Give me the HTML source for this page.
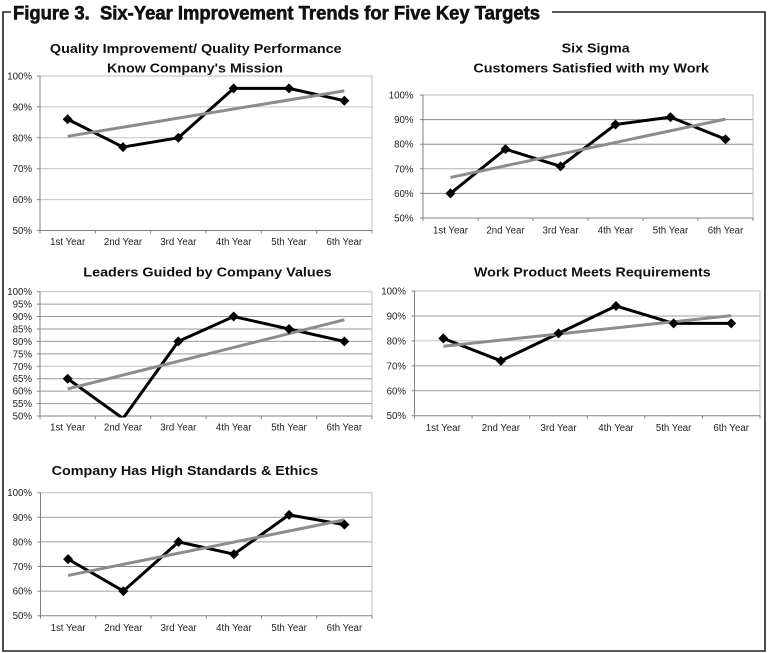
<!DOCTYPE html>
<html><head><meta charset="utf-8">
<style>
html,body{margin:0;padding:0;background:#fff;}
svg{display:block;}
.t{font-family:"Liberation Sans",Arial,sans-serif;font-weight:bold;font-size:13px;fill:#111;text-anchor:middle;}
.yl{font-family:"Liberation Sans",Arial,sans-serif;font-size:9.7px;fill:#222;text-anchor:end;}
.xl{font-family:"Liberation Sans",Arial,sans-serif;font-size:9.7px;fill:#222;text-anchor:middle;}
.ax{stroke:#808080;stroke-width:1;fill:none;}
.bd{stroke:#bdbdbd;stroke-width:1;fill:none;}
.dl{stroke:#000;stroke-width:3;fill:none;stroke-linejoin:round;}
.tr{stroke:#8c8c8c;stroke-width:3;fill:none;}
.mk{fill:#000;}
</style></head>
<body>
<svg width="768" height="653" viewBox="0 0 768 653" xmlns="http://www.w3.org/2000/svg">
<rect width="768" height="653" fill="#fff"/>
<!-- frame -->
<path d="M11 12H3V651H765V12H552" fill="none" stroke="#222" stroke-width="1.6"/>
<text x="13" y="19.5" font-family="'Liberation Sans Narrow','Liberation Sans',Arial,sans-serif" font-weight="bold" font-size="19" fill="#111" stroke="#111" stroke-width="0.6" textLength="527" lengthAdjust="spacingAndGlyphs">Figure 3.&#160; Six-Year Improvement Trends for Five Key Targets</text>

<!-- ===== Chart 1 ===== -->
<text class="t" x="195.8" y="53" textLength="291.7" lengthAdjust="spacingAndGlyphs">Quality Improvement/ Quality Performance</text>
<text class="t" x="195" y="72.7" textLength="176" lengthAdjust="spacingAndGlyphs">Know Company's Mission</text>
<g stroke="#c4c4c4" stroke-width="1">
<line x1="40" y1="106.9" x2="372" y2="106.9"/>
<line x1="40" y1="137.8" x2="372" y2="137.8"/>
<line x1="40" y1="168.7" x2="372" y2="168.7"/>
<line x1="40" y1="199.6" x2="372" y2="199.6"/>
</g>
<path class="bd" d="M40 76H372V230.5"/>
<path class="ax" d="M40 76V230.5H372"/>
<g class="ax">
<path d="M37 76H40M37 106.9H40M37 137.8H40M37 168.7H40M37 199.6H40M37 230.5H40"/>
<path d="M40 230.5V233.5M95.33 230.5V233.5M150.67 230.5V233.5M206 230.5V233.5M261.33 230.5V233.5M316.67 230.5V233.5M372 230.5V233.5"/>
</g>
<text class="yl" x="32" y="79.5">100%</text>
<text class="yl" x="32" y="110.4">90%</text>
<text class="yl" x="32" y="141.3">80%</text>
<text class="yl" x="32" y="172.2">70%</text>
<text class="yl" x="32" y="203.1">60%</text>
<text class="yl" x="32" y="234">50%</text>
<text class="xl" x="67.67" y="245">1st Year</text>
<text class="xl" x="123" y="245">2nd Year</text>
<text class="xl" x="178.33" y="245">3rd Year</text>
<text class="xl" x="233.67" y="245">4th Year</text>
<text class="xl" x="289" y="245">5th Year</text>
<text class="xl" x="344.33" y="245">6th Year</text>
<polyline class="dl" points="67.67,119.26 123,147.07 178.33,137.8 233.67,88.36 289,88.36 344.33,100.72"/>
<line class="tr" x1="67.67" y1="136.32" x2="344.33" y2="90.86"/>
<g class="mk">
<path d="M-5 0L0-5 5 0 0 5Z" transform="translate(67.67,119.26)"/>
<path d="M-5 0L0-5 5 0 0 5Z" transform="translate(123,147.07)"/>
<path d="M-5 0L0-5 5 0 0 5Z" transform="translate(178.33,137.8)"/>
<path d="M-5 0L0-5 5 0 0 5Z" transform="translate(233.67,88.36)"/>
<path d="M-5 0L0-5 5 0 0 5Z" transform="translate(289,88.36)"/>
<path d="M-5 0L0-5 5 0 0 5Z" transform="translate(344.33,100.72)"/>
</g>

<!-- ===== Chart 2 ===== -->
<text class="t" x="595.7" y="52.7" textLength="68" lengthAdjust="spacingAndGlyphs">Six Sigma</text>
<text class="t" x="591.2" y="72.5" textLength="235.7" lengthAdjust="spacingAndGlyphs">Customers Satisfied with my Work</text>
<g stroke="#858585" stroke-width="1">
<line x1="423" y1="119.6" x2="753" y2="119.6"/>
<line x1="423" y1="144.2" x2="753" y2="144.2"/>
<line x1="423" y1="168.8" x2="753" y2="168.8" stroke="#b0b0b0"/>
<line x1="423" y1="193.4" x2="753" y2="193.4"/>
</g>
<path class="bd" d="M423 95H753V218"/>
<path class="ax" d="M423 95V218H753"/>
<g class="ax">
<path d="M420 95H423M420 119.6H423M420 144.2H423M420 168.8H423M420 193.4H423M420 218H423"/>
<path d="M423 218V221M478 218V221M533 218V221M588 218V221M643 218V221M698 218V221M753 218V221"/>
</g>
<text class="yl" x="413.5" y="98.5">100%</text>
<text class="yl" x="413.5" y="123.1">90%</text>
<text class="yl" x="413.5" y="147.7">80%</text>
<text class="yl" x="413.5" y="172.3">70%</text>
<text class="yl" x="413.5" y="196.9">60%</text>
<text class="yl" x="413.5" y="221.5">50%</text>
<text class="xl" x="450.5" y="233.3">1st Year</text>
<text class="xl" x="505.5" y="233.3">2nd Year</text>
<text class="xl" x="560.5" y="233.3">3rd Year</text>
<text class="xl" x="615.5" y="233.3">4th Year</text>
<text class="xl" x="670.5" y="233.3">5th Year</text>
<text class="xl" x="725.5" y="233.3">6th Year</text>
<polyline class="dl" points="450.5,193.4 505.5,149.12 560.5,166.34 615.5,124.52 670.5,117.14 725.5,139.28"/>
<line class="tr" x1="450.5" y1="177.46" x2="725.5" y2="119.13"/>
<g class="mk">
<path d="M-5 0L0-5 5 0 0 5Z" transform="translate(450.5,193.4)"/>
<path d="M-5 0L0-5 5 0 0 5Z" transform="translate(505.5,149.12)"/>
<path d="M-5 0L0-5 5 0 0 5Z" transform="translate(560.5,166.34)"/>
<path d="M-5 0L0-5 5 0 0 5Z" transform="translate(615.5,124.52)"/>
<path d="M-5 0L0-5 5 0 0 5Z" transform="translate(670.5,117.14)"/>
<path d="M-5 0L0-5 5 0 0 5Z" transform="translate(725.5,139.28)"/>
</g>

<!-- ===== Chart 3 ===== -->
<text class="t" x="207.5" y="276.7" textLength="248.4" lengthAdjust="spacingAndGlyphs">Leaders Guided by Company Values</text>
<g stroke="#9a9a9a" stroke-width="1">
<line x1="40" y1="304.13" x2="372" y2="304.13"/>
<line x1="40" y1="316.56" x2="372" y2="316.56"/>
<line x1="40" y1="328.99" x2="372" y2="328.99"/>
<line x1="40" y1="341.42" x2="372" y2="341.42"/>
<line x1="40" y1="353.85" x2="372" y2="353.85"/>
<line x1="40" y1="366.28" x2="372" y2="366.28" stroke="#c0c0c0"/>
<line x1="40" y1="378.71" x2="372" y2="378.71"/>
<line x1="40" y1="391.14" x2="372" y2="391.14"/>
<line x1="40" y1="403.57" x2="372" y2="403.57"/>
</g>
<path class="bd" d="M40 291.7H372V416"/>
<path class="ax" d="M40 291.7V416H372"/>
<g class="ax">
<path d="M37 291.7H40M37 304.13H40M37 316.56H40M37 328.99H40M37 341.42H40M37 353.85H40M37 366.28H40M37 378.71H40M37 391.14H40M37 403.57H40M37 416H40"/>
<path d="M40 416V419M95.33 416V419M150.67 416V419M206 416V419M261.33 416V419M316.67 416V419M372 416V419"/>
</g>
<text class="yl" x="32" y="295.2">100%</text>
<text class="yl" x="32" y="307.63">95%</text>
<text class="yl" x="32" y="320.06">90%</text>
<text class="yl" x="32" y="332.49">85%</text>
<text class="yl" x="32" y="344.92">80%</text>
<text class="yl" x="32" y="357.35">75%</text>
<text class="yl" x="32" y="369.78">70%</text>
<text class="yl" x="32" y="382.21">65%</text>
<text class="yl" x="32" y="394.64">60%</text>
<text class="yl" x="32" y="407.07">55%</text>
<text class="yl" x="32" y="419.5">50%</text>
<text class="xl" x="67.67" y="430.5">1st Year</text>
<text class="xl" x="123" y="430.5">2nd Year</text>
<text class="xl" x="178.33" y="430.5">3rd Year</text>
<text class="xl" x="233.67" y="430.5">4th Year</text>
<text class="xl" x="289" y="430.5">5th Year</text>
<text class="xl" x="344.33" y="430.5">6th Year</text>
<clipPath id="c3"><rect x="38" y="285" width="340" height="132.5"/></clipPath>
<polyline class="dl" clip-path="url(#c3)" points="67.67,378.71 123,418.49 178.33,341.42 233.67,316.56 289,328.99 344.33,341.42"/>
<line class="tr" x1="67.67" y1="388.9" x2="344.33" y2="319.8"/>
<g class="mk">
<path d="M-5 0L0-5 5 0 0 5Z" transform="translate(67.67,378.71)"/>
<path d="M-5 0L0-5 5 0 0 5Z" transform="translate(178.33,341.42)"/>
<path d="M-5 0L0-5 5 0 0 5Z" transform="translate(233.67,316.56)"/>
<path d="M-5 0L0-5 5 0 0 5Z" transform="translate(289,328.99)"/>
<path d="M-5 0L0-5 5 0 0 5Z" transform="translate(344.33,341.42)"/>
</g>

<!-- ===== Chart 4 ===== -->
<text class="t" x="592.3" y="276.7" textLength="236.7" lengthAdjust="spacingAndGlyphs">Work Product Meets Requirements</text>
<g stroke="#9e9e9e" stroke-width="1">
<line x1="414.5" y1="315.94" x2="760" y2="315.94"/>
<line x1="414.5" y1="340.88" x2="760" y2="340.88" stroke="#c0c0c0"/>
<line x1="414.5" y1="365.82" x2="760" y2="365.82"/>
<line x1="414.5" y1="390.76" x2="760" y2="390.76"/>
</g>
<path class="bd" d="M414.5 291H760V415.7"/>
<path class="ax" d="M414.5 291V415.7H760"/>
<g class="ax">
<path d="M411.5 291H414.5M411.5 315.94H414.5M411.5 340.88H414.5M411.5 365.82H414.5M411.5 390.76H414.5M411.5 415.7H414.5"/>
<path d="M414.5 415.7V418.7M472.08 415.7V418.7M529.67 415.7V418.7M587.25 415.7V418.7M644.83 415.7V418.7M702.42 415.7V418.7M760 415.7V418.7"/>
</g>
<text class="yl" x="406" y="294.5">100%</text>
<text class="yl" x="406" y="319.44">90%</text>
<text class="yl" x="406" y="344.38">80%</text>
<text class="yl" x="406" y="369.32">70%</text>
<text class="yl" x="406" y="394.26">60%</text>
<text class="yl" x="406" y="419.2">50%</text>
<text class="xl" x="443.3" y="431">1st Year</text>
<text class="xl" x="500.9" y="431">2nd Year</text>
<text class="xl" x="558.5" y="431">3rd Year</text>
<text class="xl" x="616" y="431">4th Year</text>
<text class="xl" x="673.6" y="431">5th Year</text>
<text class="xl" x="731.2" y="431">6th Year</text>
<polyline class="dl" points="443.3,338.39 500.9,360.83 558.5,333.4 616,305.96 673.6,323.42 731.2,323.42"/>
<line class="tr" x1="443.3" y1="346.22" x2="731.2" y2="315.59"/>
<g class="mk">
<path d="M-5 0L0-5 5 0 0 5Z" transform="translate(443.3,338.39)"/>
<path d="M-5 0L0-5 5 0 0 5Z" transform="translate(500.9,360.83)"/>
<path d="M-5 0L0-5 5 0 0 5Z" transform="translate(558.5,333.4)"/>
<path d="M-5 0L0-5 5 0 0 5Z" transform="translate(616,305.96)"/>
<path d="M-5 0L0-5 5 0 0 5Z" transform="translate(673.6,323.42)"/>
<path d="M-5 0L0-5 5 0 0 5Z" transform="translate(731.2,323.42)"/>
</g>

<!-- ===== Chart 5 ===== -->
<text class="t" x="185" y="475" textLength="266.6" lengthAdjust="spacingAndGlyphs">Company Has High Standards &amp; Ethics</text>
<g stroke="#a0a0a0" stroke-width="1">
<line x1="40.5" y1="517.3" x2="372" y2="517.3"/>
<line x1="40.5" y1="541.9" x2="372" y2="541.9"/>
<line x1="40.5" y1="566.5" x2="372" y2="566.5" stroke="#808080"/>
<line x1="40.5" y1="591.1" x2="372" y2="591.1"/>
</g>
<path class="bd" d="M40.5 492.7H372V615.7"/>
<path class="ax" d="M40.5 492.7V615.7H372"/>
<g class="ax">
<path d="M37.5 492.7H40.5M37.5 517.3H40.5M37.5 541.9H40.5M37.5 566.5H40.5M37.5 591.1H40.5M37.5 615.7H40.5"/>
<path d="M40.5 615.7V618.7M95.75 615.7V618.7M151 615.7V618.7M206.25 615.7V618.7M261.5 615.7V618.7M316.75 615.7V618.7M372 615.7V618.7"/>
</g>
<text class="yl" x="32" y="496.2">100%</text>
<text class="yl" x="32" y="520.8">90%</text>
<text class="yl" x="32" y="545.4">80%</text>
<text class="yl" x="32" y="570">70%</text>
<text class="yl" x="32" y="594.6">60%</text>
<text class="yl" x="32" y="619.2">50%</text>
<text class="xl" x="68.1" y="631">1st Year</text>
<text class="xl" x="123.4" y="631">2nd Year</text>
<text class="xl" x="178.6" y="631">3rd Year</text>
<text class="xl" x="233.9" y="631">4th Year</text>
<text class="xl" x="289.1" y="631">5th Year</text>
<text class="xl" x="344.4" y="631">6th Year</text>
<polyline class="dl" points="68.1,559.12 123.4,591.1 178.6,541.9 233.9,554.2 289.1,514.84 344.4,524.68"/>
<line class="tr" x1="68.1" y1="575.41" x2="344.4" y2="519.88"/>
<g class="mk">
<path d="M-5 0L0-5 5 0 0 5Z" transform="translate(68.1,559.12)"/>
<path d="M-5 0L0-5 5 0 0 5Z" transform="translate(123.4,591.1)"/>
<path d="M-5 0L0-5 5 0 0 5Z" transform="translate(178.6,541.9)"/>
<path d="M-5 0L0-5 5 0 0 5Z" transform="translate(233.9,554.2)"/>
<path d="M-5 0L0-5 5 0 0 5Z" transform="translate(289.1,514.84)"/>
<path d="M-5 0L0-5 5 0 0 5Z" transform="translate(344.4,524.68)"/>
</g>
</svg>
</body></html>
